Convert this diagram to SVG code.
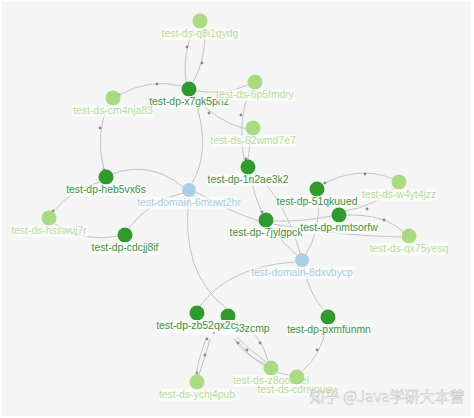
<svg xmlns="http://www.w3.org/2000/svg" width="474" height="418" viewBox="0 0 474 418">
<style>
.e{fill:none;stroke:#c4c4c4;stroke-width:1}
.d{fill:#8a8a8a}
.dp{fill:#2f9b2f}
.ds{fill:#a9dc82}
.dm{fill:#a8d0e8}
text{font-family:"Liberation Sans",Arial,sans-serif;font-size:10.4px;text-anchor:middle}
.tdp{fill:#3c933c}
.tds{fill:#b6dd9c}
.tdm{fill:#a6cde3}
.bg{fill:#ffffff;fill-opacity:0.55}
</style>
<rect x="0" y="0" width="474" height="418" fill="#ffffff"/>
<rect x="2" y="2" width="469" height="414" fill="#f5f5f5"/>
<g id="connectors">
<path class="e" d="M194,28 Q182,55 186,82"/>
<path class="e" d="M205,28 Q206,60 193,82"/>
<path class="e" d="M182,86 Q150,78 119,95"/>
<path class="e" d="M196,91 Q225,95 248,85"/>
<path class="e" d="M196,97 Q215,121 246,129"/>
<path class="e" d="M250,89 Q237,120 244,160"/>
<path class="e" d="M251,136 L248,160"/>
<path class="e" d="M194,96 Q212,150 192,183"/>
<path class="e" d="M108,105 Q95,135 104,170"/>
<path class="e" d="M112,174 Q150,160 183,187"/>
<path class="e" d="M100,182 Q70,190 53,212"/>
<path class="e" d="M55,224 Q85,243 118,236"/>
<path class="e" d="M128,229 Q150,200 183,193"/>
<path class="e" d="M196,192 Q230,212 259,221"/>
<path class="e" d="M273,221 Q300,222 332,216"/>
<path class="e" d="M189,198 Q180,272 226,308"/>
<path class="e" d="M250,175 Q254,195 262,213"/>
<path class="e" d="M255,173 Q285,200 300,253"/>
<path class="e" d="M323,184 Q360,165 393,179"/>
<path class="e" d="M345,211 Q375,206 394,188"/>
<path class="e" d="M346,215 Q385,214 403,232"/>
<path class="e" d="M273,224 Q340,236 401,237"/>
<path class="e" d="M318,197 Q321,230 306,254"/>
<path class="e" d="M270,227 Q285,245 297,255"/>
<path class="e" d="M295,262 Q230,266 200,306"/>
<path class="e" d="M304,267 Q310,296 324,310"/>
<path class="e" d="M327,325 Q321,356 302,371"/>
<path class="e" d="M206,339 Q198,360 196,375"/>
<path class="e" d="M210,339 Q204,360 199,375"/>
<path class="e" d="M233,338 Q245,356 265,364"/>
<path class="e" d="M237,337 Q252,352 266,362"/>
<path class="e" d="M234,322 Q260,330 268,361"/>
<path class="e" d="M236,340 Q262,372 291,376"/>
<circle class="d" cx="187" cy="47" r="1.4"/>
<circle class="d" cx="202" cy="63" r="1.4"/>
<circle class="d" cx="157" cy="84" r="1.4"/>
<circle class="d" cx="119" cy="95" r="1.4"/>
<circle class="d" cx="209" cy="113" r="1.4"/>
<circle class="d" cx="241" cy="115" r="1.4"/>
<circle class="d" cx="246" cy="159" r="1.4"/>
<circle class="d" cx="100" cy="128" r="1.4"/>
<circle class="d" cx="104" cy="170" r="1.4"/>
<circle class="d" cx="53" cy="211" r="1.4"/>
<circle class="d" cx="262" cy="212" r="1.4"/>
<circle class="d" cx="325" cy="183" r="1.4"/>
<circle class="d" cx="365" cy="174" r="1.4"/>
<circle class="d" cx="367" cy="209" r="1.4"/>
<circle class="d" cx="384" cy="220" r="1.4"/>
<circle class="d" cx="317" cy="350" r="1.4"/>
<circle class="d" cx="205" cy="355" r="1.4"/>
<circle class="d" cx="207" cy="339" r="1.4"/>
<circle class="d" cx="197" cy="373" r="1.4"/>
<circle class="d" cx="238" cy="343" r="1.4"/>
<circle class="d" cx="247" cy="350" r="1.4"/>
<circle class="d" cx="260" cy="343" r="1.4"/>
</g>
<g id="test-ds-q8i1qydg"><circle class="ds" cx="200" cy="21" r="7.5"/><rect class="bg" x="161" y="28" width="79" height="12"/><text class="tds" x="200" y="37">test-ds-q8i1qydg</text></g>
<g id="test-dp-x7gk5pnz"><circle class="dp" cx="189" cy="89" r="7.5"/><rect class="bg" x="149" y="96" width="80" height="12"/><text class="tdp" x="189" y="105">test-dp-x7gk5pnz</text></g>
<g id="test-ds-6p5fmdry"><circle class="ds" cx="255" cy="82" r="7.5"/><rect class="bg" x="216" y="89" width="79" height="12"/><text class="tds" x="255" y="98">test-ds-6p5fmdry</text></g>
<g id="test-ds-cm4nja83"><circle class="ds" cx="113" cy="98" r="7.5"/><rect class="bg" x="72" y="105" width="82" height="12"/><text class="tds" x="113" y="114">test-ds-cm4nja83</text></g>
<g id="test-ds-62wmd7e7"><circle class="ds" cx="253" cy="128" r="7.5"/><rect class="bg" x="211" y="135" width="84" height="12"/><text class="tds" x="253" y="144">test-ds-62wmd7e7</text></g>
<g id="test-dp-1n2ae3k2"><circle class="dp" cx="248" cy="167" r="7.5"/><rect class="bg" x="207" y="174" width="82" height="12"/><text class="tdp" x="248" y="183">test-dp-1n2ae3k2</text></g>
<g id="test-dp-heb5vx6s"><circle class="dp" cx="106" cy="177" r="7.5"/><rect class="bg" x="66" y="184" width="80" height="12"/><text class="tdp" x="106" y="193">test-dp-heb5vx6s</text></g>
<g id="test-domain-6muwt2hr"><circle class="dm" cx="189" cy="190" r="7"/><rect class="bg" x="138" y="197" width="102" height="12"/><text class="tdm" x="189" y="206">test-domain-6muwt2hr</text></g>
<g id="test-ds-hsswuj7r"><circle class="ds" cx="49" cy="218" r="7.5"/><rect class="bg" x="11" y="225" width="77" height="12"/><text class="tds" x="49" y="234">test-ds-hsswuj7r</text></g>
<g id="test-dp-cdcjj8if"><circle class="dp" cx="125" cy="235" r="7.5"/><rect class="bg" x="91" y="242" width="68" height="12"/><text class="tdp" x="125" y="251">test-dp-cdcjj8if</text></g>
<g id="test-ds-w4yt4jzz"><circle class="ds" cx="399" cy="182" r="7.5"/><rect class="bg" x="361" y="189" width="76" height="12"/><text class="tds" x="399" y="198">test-ds-w4yt4jzz</text></g>
<g id="test-dp-51qkuued"><circle class="dp" cx="317" cy="189" r="7.5"/><rect class="bg" x="276" y="196" width="82" height="12"/><text class="tdp" x="317" y="205">test-dp-51qkuued</text></g>
<g id="test-dp-7jylgpck"><circle class="dp" cx="266" cy="220" r="7.5"/><rect class="bg" x="229" y="227" width="74" height="12"/><text class="tdp" x="266" y="236">test-dp-7jylgpck</text></g>
<g id="test-dp-nmtsorfw"><circle class="dp" cx="339" cy="215" r="7.5"/><rect class="bg" x="300" y="222" width="78" height="12"/><text class="tdp" x="339" y="231">test-dp-nmtsorfw</text></g>
<g id="test-ds-qx75yesq"><circle class="ds" cx="409" cy="236" r="7.5"/><rect class="bg" x="369" y="243" width="80" height="12"/><text class="tds" x="409" y="252">test-ds-qx75yesq</text></g>
<g id="test-domain-8dxvbycp"><circle class="dm" cx="302" cy="260" r="7"/><rect class="bg" x="250" y="267" width="104" height="12"/><text class="tdm" x="302" y="276">test-domain-8dxvbycp</text></g>
<g id="test-dp-3zcmp"><circle class="dp" cx="228" cy="316" r="7.5"/><rect class="bg" x="190" y="323" width="78" height="12"/><text class="tdp" x="228" y="332">test-dp-8u63zcmp</text></g>
<g id="test-dp-zb52qx2c"><circle class="dp" cx="197" cy="313" r="7.5"/><rect x="156" y="320" width="80" height="12" fill="#fafafa"/><text class="tdp" x="196" y="329">test-dp-zb52qx2c</text></g>
<g id="test-dp-pxmfunmn"><circle class="dp" cx="328" cy="317" r="7.5"/><rect class="bg" x="287" y="324" width="84" height="12"/><text class="tdp" x="329" y="333">test-dp-pxmfunmn</text></g>
<g id="test-ds-ychj4pub"><circle class="ds" cx="197" cy="382" r="7.5"/><rect class="bg" x="159" y="389" width="76" height="12"/><text class="tds" x="197" y="398">test-ds-ychj4pub</text></g>
<g id="test-ds-z8oo"><circle class="ds" cx="271" cy="368" r="7.5"/><rect class="bg" x="233" y="375" width="76" height="12"/><text class="tds" x="271" y="384">test-ds-z8oodxel</text></g>
<g id="test-ds-cdnvouey"><circle class="ds" cx="297" cy="377" r="7.5"/><rect class="bg" x="257" y="384" width="80" height="12"/><text class="tds" x="297" y="393">test-ds-cdnvouey</text></g>
<text x="387" y="402" style="font-family:'Noto Sans CJK SC','Liberation Sans',sans-serif;font-size:15px;fill:#ffffff;fill-opacity:0.9;stroke:#c2c2c2;stroke-width:0.5">知乎 @Java学研大本营</text>
</svg>
